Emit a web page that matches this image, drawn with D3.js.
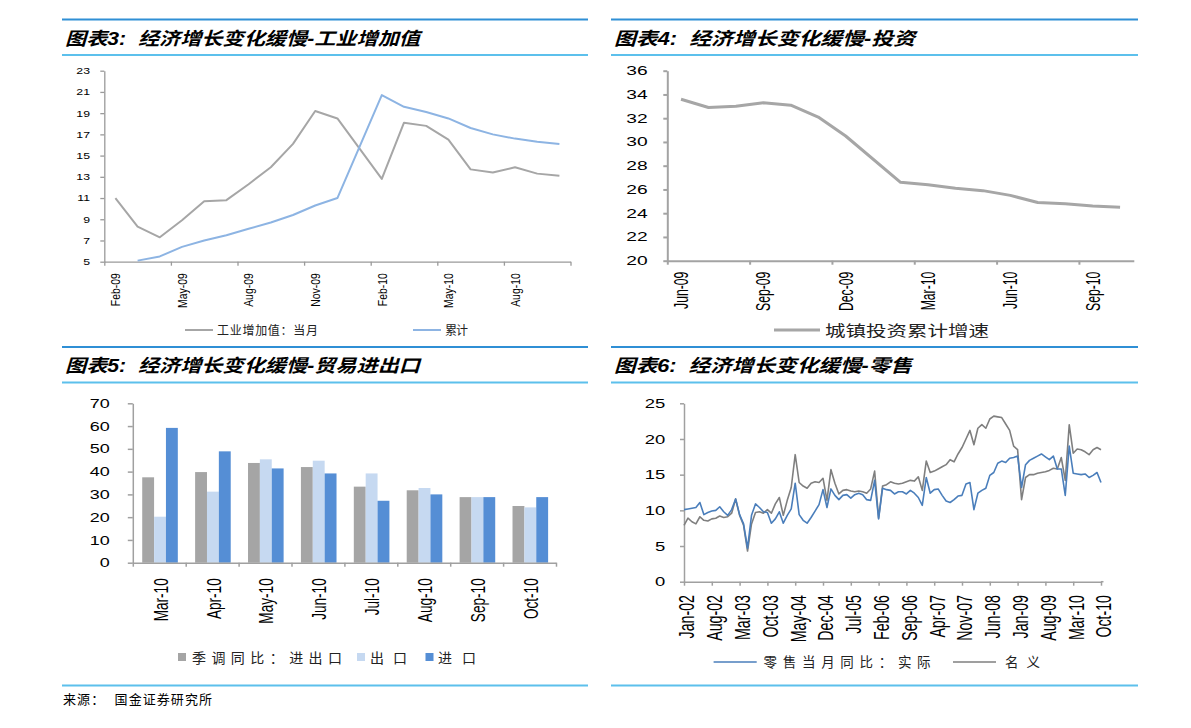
<!DOCTYPE html>
<html><head><meta charset="utf-8">
<script src="https://cdn.jsdelivr.net/npm/d3@7"></script>
<style>
body{margin:0;background:#fff;}
svg{display:block;}
text{white-space:pre;}
</style></head><body>
<svg id="c" width="1191" height="728"></svg>
<script>
// ---------------- DATA ----------------
// Chart 3: industrial value added
const ipMonths = ["Feb-09","Mar-09","Apr-09","May-09","Jun-09","Jul-09","Aug-09","Sep-09","Oct-09","Nov-09","Dec-09","Jan-10","Feb-10","Mar-10","Apr-10","May-10","Jun-10","Jul-10","Aug-10","Sep-10","Oct-10"];
const ipMonthly    = [11.0, 8.3, 7.3, 8.9, 10.7, 10.8, 12.3, 13.9, 16.1, 19.2, 18.5, null, 12.8, 18.1, 17.8, 16.5, 13.7, 13.4, 13.9, 13.3, 13.1];
const ipCumulative = [null, 5.1, 5.5, 6.4, 7.0, 7.5, 8.1, 8.7, 9.4, 10.3, 11.0, null, 20.7, 19.6, 19.1, 18.5, 17.6, 17.0, 16.6, 16.3, 16.1];
const ipTickLabels = ["Feb-09","May-09","Aug-09","Nov-09","Feb-10","May-10","Aug-10"];
const ipYTicks = [5,7,9,11,13,15,17,19,21,23];

// Chart 4: fixed asset investment
const faiMonths = ["Jun-09","Jul-09","Aug-09","Sep-09","Oct-09","Nov-09","Dec-09","Jan-10","Feb-10","Mar-10","Apr-10","May-10","Jun-10","Jul-10","Aug-10","Sep-10","Oct-10"];
const faiCumulative = [33.6, 32.9, 33.0, 33.3, 33.1, 32.1, 30.5, null, 26.6, 26.4, 26.1, 25.9, 25.5, 24.9, 24.8, 24.6, 24.5];
const faiTickLabels = ["Jun-09","Sep-09","Dec-09","Mar-10","Jun-10","Sep-10"];
const faiYTicks = [20,22,24,26,28,30,32,34,36];

// Chart 5: trade
const tradeMonths = ["Mar-10","Apr-10","May-10","Jun-10","Jul-10","Aug-10","Sep-10","Oct-10"];
const tradeTotal  = [37.5, 39.8, 43.8, 42.0, 33.4, 31.8, 28.8, 24.9];
const tradeExport = [20.2, 31.2, 45.4, 44.8, 39.2, 32.8, 28.8, 24.3];
const tradeImport = [59.2, 48.9, 41.4, 39.2, 27.2, 30.0, 28.8, 28.8];
const tradeYTicks = [0,10,20,30,40,50,60,70];

// Chart 6: retail sales, monthly Jan-02 .. Oct-10
const retailReal = [
 10.1,10.2,10.3,10.4,11.1,9.4,9.7,9.9,10.0,10.5,9.8,9.3,
 10.1,11.6,9.4,8.1,4.7,9.3,10.9,10.4,9.8,9.7,8.2,8.8,
 9.8,8.2,9.3,10.2,13.8,9.4,8.6,8.2,9.0,9.9,10.8,12.9,
 10.4,13.0,12.1,11.5,12.1,12.2,11.7,12.2,12.4,12.2,11.5,11.4,
 14.2,8.8,13.1,12.9,12.8,12.3,12.6,12.6,12.3,12.8,12.4,11.8,
 10.7,14.6,12.4,12.9,13.0,12.1,11.3,11.1,11.5,12.0,12.1,13.7,
 13.9,10.1,12.4,12.8,13.1,14.9,15.3,16.6,16.9,16.7,17.3,17.4,
 17.6,13.2,16.4,17.0,17.3,17.6,17.9,17.5,17.1,17.6,15.8,15.8,
 12.1,19.0,15.2,15.1,15.0,15.1,14.6,14.9,15.3,13.9];
const retailNominal = [
 7.9,8.9,8.4,8.1,9.1,8.6,8.5,8.8,8.9,9.2,9.0,9.1,
 9.6,11.6,9.3,7.9,4.3,8.1,9.7,9.8,9.6,10.1,9.6,10.9,
 11.8,9.3,11.4,13.2,17.8,13.9,13.4,13.1,13.8,14.0,13.9,14.5,
 11.4,15.7,13.8,12.3,12.8,12.9,12.7,12.6,12.7,12.6,12.4,13.0,
 15.5,8.9,13.4,13.6,14.0,13.8,13.7,13.8,14.0,14.2,14.1,14.7,
 12.8,16.9,15.3,15.5,15.8,16.1,16.4,17.1,16.8,17.9,18.8,20.0,
 21.2,19.2,21.5,22.0,21.5,22.8,23.2,23.1,23.0,22.1,21.2,19.0,
 18.5,11.5,14.6,15.0,15.0,15.2,15.3,15.4,15.6,15.9,15.8,17.4,
 14.2,22.0,18.0,18.6,18.5,18.2,17.8,18.5,18.8,18.5];
const retailTickLabels = ["Jan-02","Aug-02","Mar-03","Oct-03","May-04","Dec-04","Jul-05","Feb-06","Sep-06","Apr-07","Nov-07","Jun-08","Jan-09","Aug-09","Mar-10","Oct-10"];
const retailYTicks = [0,5,10,15,20,25];

// ---------------- HELPERS ----------------
const svg = d3.select("#c");
const LAT = "'Liberation Sans', Arial, sans-serif";
const CJK = "'Liberation Sans', 'Noto Sans CJK SC', sans-serif";

function txt(g, str, x, y, o) {
  let tr = `translate(${x},${y})`;
  if (o.rot) tr += " rotate(-90)";
  if (o.k) tr += o.rot ? ` scale(1,${o.k})` : ` scale(${o.k},1)`;
  const t = g.append("text").attr("transform", tr)
    .attr("text-anchor", o.anchor || "start")
    .attr("font-family", o.family || LAT)
    .attr("font-size", o.size)
    .attr("fill", o.fill || "#000")
    .text(str);
  if (o.dy) t.attr("dy", o.dy);
  if (o.weight) t.attr("font-weight", o.weight);
  if (o.style) t.attr("font-style", o.style);
  if (o.len) t.attr("textLength", o.len).attr("lengthAdjust", o.adj || "spacingAndGlyphs");
  return t;
}
function styleAxis(sel, color, w) {
  sel.select(".domain").attr("stroke", color).attr("stroke-width", w);
  sel.selectAll(".tick line").attr("stroke", color).attr("stroke-width", w);
  sel.selectAll(".tick text").remove();
}
function header(x0, x1, yTop, ySub, title, tx, tlen) {
  svg.append("line").attr("x1", x0).attr("x2", x1).attr("y1", yTop).attr("y2", yTop)
    .attr("stroke", "#2f8fd5").attr("stroke-width", 2);
  svg.append("line").attr("x1", x0).attr("x2", x1).attr("y1", ySub).attr("y2", ySub)
    .attr("stroke", "#5cc0ec").attr("stroke-width", 2);
  txt(svg, title, tx, ySub - 10.5, {size: 18, family: CJK, weight: "bold", style: "italic", len: tlen});
}

// ---------------- HEADERS ----------------
header(62, 588, 19.5, 55, "图表3:  经济增长变化缓慢-工业增加值", 65, 355);
header(611, 1138, 19.5, 55, "图表4:  经济增长变化缓慢-投资", 614, 301);
header(62, 588, 347, 382.5, "图表5:  经济增长变化缓慢-贸易进出口", 65, 355);
header(611, 1138, 347, 382.5, "图表6:  经济增长变化缓慢-零售", 614, 298);
svg.append("line").attr("x1", 62).attr("x2", 588).attr("y1", 685.5).attr("y2", 685.5).attr("stroke", "#5cc0ec").attr("stroke-width", 2);
svg.append("line").attr("x1", 611).attr("x2", 1138).attr("y1", 685.5).attr("y2", 685.5).attr("stroke", "#5cc0ec").attr("stroke-width", 2);
txt(svg, "来源：  国金证券研究所", 63, 704, {size: 13, family: CJK, len: 149, adj: "spacing"});

// ---------------- CHART 3 ----------------
(function(){
  const g = svg.append("g");
  const x = d3.scaleBand().domain(ipMonths).range([104.3, 570.5]).padding(0);
  const xl = d3.scaleLinear().domain([0, ipMonths.length]).range(x.range());
  const y = d3.scaleLinear().domain([5, 23]).range([261.7, 70.7]);
  const bw = x.bandwidth();
  const ax = "#9a9a9a";
  g.append("g").attr("transform", `translate(104.3,0)`)
    .call(d3.axisLeft(y).tickValues(ipYTicks).tickSize(4).tickSizeOuter(0).tickFormat(""))
    .call(s => styleAxis(s, ax, 1.3));
  g.append("g").attr("transform", `translate(0,261.7)`)
    .call(d3.axisBottom(xl).tickValues(d3.range(0, 22, 3)).tickSize(4).tickSizeOuter(0).tickFormat(""))
    .call(s => styleAxis(s, ax, 1.3));
  ipYTicks.forEach(v => txt(g, String(v), 90, y(v), {size: 9.6, k: 1.28, anchor: "end", dy: "0.35em"}));
  ipTickLabels.forEach(lbl => {
    const cx = x(lbl) + bw / 2;
    txt(g, lbl, cx, 273.3, {size: 10.4, k: 1.3, rot: true, anchor: "end", dy: "0.35em"});
  });
  const line = d3.line().x(d => x(d.m) + bw / 2).y(d => y(d.v));
  const s1 = ipMonths.map((m, i) => ({m, v: ipMonthly[i]})).filter(d => d.v != null);
  const s2 = ipMonths.map((m, i) => ({m, v: ipCumulative[i]})).filter(d => d.v != null);
  g.append("path").attr("d", line(s1)).attr("fill", "none").attr("stroke", "#a6a6a6").attr("stroke-width", 2).attr("stroke-linejoin", "round");
  g.append("path").attr("d", line(s2)).attr("fill", "none").attr("stroke", "#8db4e3").attr("stroke-width", 2).attr("stroke-linejoin", "round");
  // legend
  g.append("line").attr("x1", 185).attr("x2", 213).attr("y1", 330).attr("y2", 330).attr("stroke", "#a6a6a6").attr("stroke-width", 2);
  txt(g, "工业增加值：当月", 217, 334.5, {size: 12, family: CJK, len: 101, adj: "spacing", fill: "#222"});
  g.append("line").attr("x1", 413).attr("x2", 441).attr("y1", 330).attr("y2", 330).attr("stroke", "#8db4e3").attr("stroke-width", 2);
  txt(g, "累计", 445, 334.5, {size: 12, family: CJK, len: 23, adj: "spacing", fill: "#222"});
})();

// ---------------- CHART 4 ----------------
(function(){
  const g = svg.append("g");
  const x = d3.scaleBand().domain(faiMonths).range([667.3, 1133.8]).padding(0);
  const xl = d3.scaleLinear().domain([0, faiMonths.length]).range(x.range());
  const y = d3.scaleLinear().domain([20, 36]).range([260.7, 70.7]);
  const bw = x.bandwidth();
  const ax = "#a3a3a3";
  g.append("g").attr("transform", `translate(667.3,0)`)
    .call(d3.axisLeft(y).tickValues(faiYTicks).tickSize(4).tickSizeOuter(0).tickFormat(""))
    .call(s => styleAxis(s, ax, 2));
  g.append("g").attr("transform", `translate(0,260.7)`)
    .call(d3.axisBottom(xl).tickValues(d3.range(0, 16, 3)).tickSize(4).tickSizeOuter(0).tickFormat(""))
    .call(s => styleAxis(s, ax, 2));
  faiYTicks.forEach(v => txt(g, String(v), 647.7, y(v), {size: 12.8, k: 1.5, anchor: "end", dy: "0.35em"}));
  faiTickLabels.forEach(lbl => {
    const cx = x(lbl) + bw / 2;
    txt(g, lbl, cx, 271.7, {size: 12.2, k: 1.65, rot: true, anchor: "end", dy: "0.35em"});
  });
  const line = d3.line().x(d => x(d.m) + bw / 2).y(d => y(d.v));
  const s1 = faiMonths.map((m, i) => ({m, v: faiCumulative[i]})).filter(d => d.v != null);
  g.append("path").attr("d", line(s1)).attr("fill", "none").attr("stroke", "#a6a6a6").attr("stroke-width", 3).attr("stroke-linejoin", "round");
  g.append("line").attr("x1", 774).attr("x2", 820).attr("y1", 330).attr("y2", 330).attr("stroke", "#a6a6a6").attr("stroke-width", 3);
  txt(g, "城镇投资累计增速", 825, 336, {size: 15, family: CJK, len: 164, fill: "#222"});
})();

// ---------------- CHART 5 ----------------
(function(){
  const g = svg.append("g");
  const x = d3.scaleBand().domain(tradeMonths).range([132.8, 556]).padding(0);
  const xl = d3.scaleLinear().domain([0, tradeMonths.length]).range(x.range());
  const y = d3.scaleLinear().domain([0, 70]).range([562.7, 403.3]);
  const bw = x.bandwidth();
  const keys = ["total", "export", "import"];
  const colors = {total: "#a5a5a5", export: "#c6d9f1", import: "#558ed5"};
  const xs = d3.scaleBand().domain(keys).range([bw * 0.178, bw * 0.851]).padding(0);
  const ax = "#a0a0a0";
  const rows = tradeMonths.map((m, i) => ({m, total: tradeTotal[i], export: tradeExport[i], import: tradeImport[i]}));
  const grp = g.selectAll("g.grp").data(rows).join("g").attr("class", "grp").attr("transform", d => `translate(${x(d.m)},0)`);
  grp.selectAll("rect").data(d => keys.map(k => ({k, v: d[k]}))).join("rect")
    .attr("x", d => xs(d.k)).attr("width", xs.bandwidth())
    .attr("y", d => y(d.v)).attr("height", d => y(0) - y(d.v))
    .attr("fill", d => colors[d.k]);
  g.append("g").attr("transform", `translate(132.8,0)`)
    .call(d3.axisLeft(y).tickValues(tradeYTicks).tickSize(5).tickSizeOuter(0).tickFormat(""))
    .call(s => styleAxis(s, ax, 1.5));
  g.append("g").attr("transform", `translate(0,562.7)`)
    .call(d3.axisBottom(xl).tickValues(d3.range(0, 9)).tickSize(4).tickSizeOuter(0).tickFormat(""))
    .call(s => styleAxis(s, ax, 1.5));
  tradeYTicks.forEach(v => txt(g, String(v), 109.7, y(v), {size: 13.3, k: 1.35, anchor: "end", dy: "0.35em"}));
  tradeMonths.forEach(lbl => {
    const cx = x(lbl) + bw / 2 + 1.2;
    txt(g, lbl, cx, 578.3, {size: 13.6, k: 1.5, rot: true, anchor: "end", dy: "0.35em"});
  });
  const leg = [["total", "季调同比：进出口", 178, 192, 150], ["export", "出口", 357, 370, 37], ["import", "进口", 425.5, 438, 38]];
  leg.forEach(([k, label, sx, tx, len]) => {
    g.append("rect").attr("x", sx).attr("y", 653).attr("width", 8).attr("height", 8).attr("fill", colors[k]);
    txt(g, label, tx, 662.5, {size: 14, family: CJK, len: len, adj: "spacing", fill: "#222"});
  });
})();

// ---------------- CHART 6 ----------------
(function(){
  const g = svg.append("g");
  const n = retailReal.length;
  const x = d3.scaleLinear().domain([0, n - 1]).range([684, 1101]);
  const y = d3.scaleLinear().domain([0, 25]).range([581.7, 403.3]);
  const ax = "#a0a0a0";
  const tickIdx = d3.range(0, n, 7);
  g.append("g").attr("transform", `translate(684,0)`)
    .call(d3.axisLeft(y).tickValues(retailYTicks).tickSize(4).tickSizeOuter(0).tickFormat(""))
    .call(s => styleAxis(s, ax, 1.5));
  g.append("g").attr("transform", `translate(0,581.7)`)
    .call(d3.axisBottom(x).tickValues(tickIdx).tickSize(4).tickSizeOuter(0).tickFormat(""))
    .call(s => styleAxis(s, ax, 1.5));
  g.append("line").attr("x1", 1101).attr("x2", 1103.5).attr("y1", 581.7).attr("y2", 581.7).attr("stroke", ax).attr("stroke-width", 1.5);
  retailYTicks.forEach(v => txt(g, String(v), 665.3, y(v), {size: 13.2, k: 1.4, anchor: "end", dy: "0.35em"}));
  retailTickLabels.forEach((lbl, j) => {
    txt(g, lbl, x(tickIdx[j]) + 3, 595, {size: 14.2, k: 1.5, rot: true, anchor: "end", dy: "0.35em"});
  });
  const line = d3.line().x((d, i) => x(i)).y(d => y(d));
  g.append("path").attr("d", line(retailNominal)).attr("fill", "none").attr("stroke", "#7f7f7f").attr("stroke-width", 1.6).attr("stroke-linejoin", "round");
  g.append("path").attr("d", line(retailReal)).attr("fill", "none").attr("stroke", "#4a7ebb").attr("stroke-width", 1.6).attr("stroke-linejoin", "round");
  g.append("line").attr("x1", 713.6).attr("x2", 756.7).attr("y1", 662).attr("y2", 662).attr("stroke", "#4a7ebb").attr("stroke-width", 1.5);
  txt(g, "零售当月同比：实际", 763.6, 667, {size: 13.5, family: CJK, len: 167, adj: "spacing", fill: "#222"});
  g.append("line").attr("x1", 953).attr("x2", 996).attr("y1", 662).attr("y2", 662).attr("stroke", "#7f7f7f").attr("stroke-width", 1.5);
  txt(g, "名义", 1005, 667, {size: 13.5, family: CJK, len: 35, adj: "spacing", fill: "#222"});
})();
</script>
</body></html>
